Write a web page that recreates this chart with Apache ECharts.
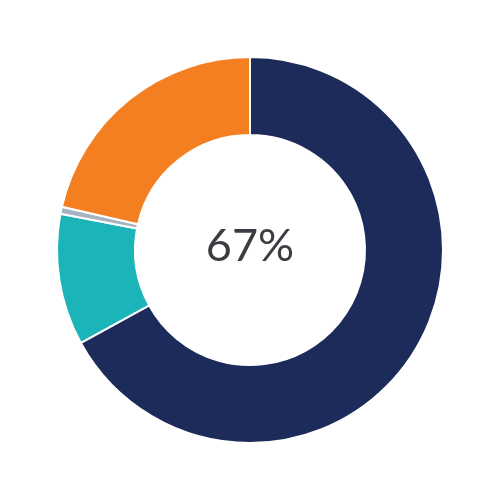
<!DOCTYPE html>
<html>
<head>
<meta charset="utf-8">
<script src="https://cdn.jsdelivr.net/npm/echarts@6/dist/echarts.min.js"></script>
<style>
  html, body { margin: 0; padding: 0; background: #fff; }
  #main { width: 500px; height: 500px; }
</style>
</head>
<body>
<div id="main"></div>
<script>
var categories = ['Navy', 'Teal', 'Gray', 'Orange'];
var values = [67, 11, 0.6, 21.4];
var colors = ['#1c2b5a', '#1bb5b9', '#a7b2c0', '#f47f20'];
var centerLabel = '67%';

var myChart = echarts.init(document.getElementById('main'));
myChart.setOption({
    animation: false,
    title: {
        text: centerLabel,
        left: 'center',
        top: 219,
        textStyle: {
            fontFamily: 'Lato',
            fontWeight: 'normal',
            fontSize: 45,
            color: '#3a3d42'
        }
    },
    series: [{
        type: 'pie',
        center: [250, 250],
        radius: [115, 193],
        startAngle: 90,
        clockwise: true,
        label: { show: false },
        labelLine: { show: false },
        itemStyle: { borderColor: '#fff', borderWidth: 2 },
        data: categories.map(function (c, i) {
            return { name: c, value: values[i], itemStyle: { color: colors[i] } };
        })
    }]
});
</script>
</body>
</html>
